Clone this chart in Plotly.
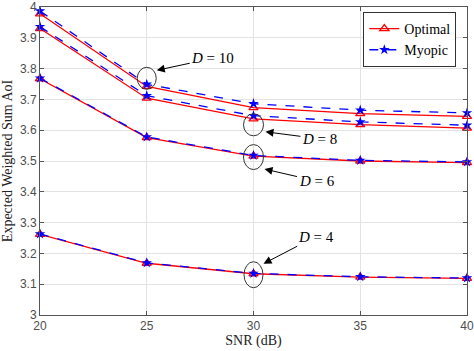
import plotly.graph_objects as go

snr = [20, 25, 30, 35, 40]
opt_d10 = [3.978, 3.742, 3.673, 3.654, 3.645]
myo_d10 = [3.987, 3.749, 3.686, 3.665, 3.656]
opt_d8 = [3.930, 3.704, 3.637, 3.618, 3.607]
myo_d8 = [3.936, 3.712, 3.647, 3.627, 3.616]
opt_d6 = [3.767, 3.576, 3.516, 3.500, 3.495]
myo_d6 = [3.769, 3.578, 3.518, 3.502, 3.497]
opt_d4 = [3.262, 3.168, 3.134, 3.123, 3.119]
myo_d4 = [3.263, 3.169, 3.135, 3.124, 3.120]

fig = go.Figure()
pairs = [(opt_d10, myo_d10), (opt_d8, myo_d8), (opt_d6, myo_d6), (opt_d4, myo_d4)]
for i, (o, m) in enumerate(pairs):
    fig.add_trace(go.Scatter(x=snr, y=o, mode="lines+markers", name="Optimal",
                             showlegend=(i == 0), cliponaxis=False,
                             line=dict(color="#ff0000", width=1.3),
                             marker=dict(symbol="triangle-up-open", size=8,
                                         color="#ff0000", line=dict(width=1.3))))
    fig.add_trace(go.Scatter(x=snr, y=m, mode="lines+markers", name="Myopic",
                             showlegend=(i == 0), cliponaxis=False,
                             line=dict(color="#0000ff", width=1.3, dash="dash"),
                             marker=dict(symbol="star", size=8, color="#0000ff")))

# ellipses around selected points (pixel-sized, anchored to data)
ell = [
    (25, myo_d10[1], 19, 22, 6),
    (30, opt_d8[2], 20, 22, -6),
    (30, opt_d6[2], 20, 25, -1),
    (30, opt_d4[2], 19, 26, -1),
]
for xa, ya, w, h, dy in ell:
    fig.add_shape(type="circle", xref="x", yref="y", xsizemode="pixel", ysizemode="pixel",
                  xanchor=xa, yanchor=ya, x0=-w / 2, x1=w / 2, y0=dy - h / 2, y1=dy + h / 2,
                  line=dict(color="#333333", width=1))

labels = [
    (25, myo_d10[1], "<i>D</i> = 10", 10, 14, 56, -12),
    (30, opt_d8[2], "<i>D</i> = 8", 12, -13, 54, 7),
    (30, opt_d6[2], "<i>D</i> = 6", 11, -13, 52, 12),
    (30, opt_d4[2], "<i>D</i> = 4", 10, 10, 52, -27),
]
for xa, ya, txt, xs, ys, ax, ay in labels:
    fig.add_annotation(x=xa, y=ya, xref="x", yref="y", text=txt, showarrow=True,
                       xshift=xs, yshift=ys, ax=ax, ay=ay, arrowhead=2, arrowsize=1.6,
                       arrowwidth=1, arrowcolor="#000000",
                       font=dict(family="Liberation Serif", size=15, color="#000000"))

axis_common = dict(showgrid=True, gridcolor="#e3e3e3", gridwidth=1, zeroline=False,
                   showline=True, linecolor="#555555", linewidth=1, mirror="ticks",
                   ticks="inside", ticklen=4, tickcolor="#555555", automargin=False,
                   tickfont=dict(family="Liberation Sans", size=12, color="#4d4d4d"))

fig.update_layout(
    width=474, height=351,
    margin=dict(l=40, r=7, t=7, b=36),
    paper_bgcolor="white", plot_bgcolor="white",
    xaxis=dict(range=[20, 40], dtick=5, tick0=20,
               title=dict(text="SNR (dB)", standoff=2,
                          font=dict(family="Liberation Serif", size=14, color="#222222")),
               **axis_common),
    yaxis=dict(range=[3, 4], dtick=0.1, tick0=3, tickformat="~g",
               title=dict(text="Expected Weighted Sum AoI", standoff=6,
                          font=dict(family="Liberation Serif", size=14, color="#222222")),
               **axis_common),
    legend=dict(x=0.975, y=0.984, xanchor="right", yanchor="top",
                bgcolor="white", bordercolor="#333333", borderwidth=1,
                font=dict(family="Liberation Serif", size=14, color="#000000"),
                tracegroupgap=0, itemwidth=30),
)

fig.write_html("out.html")
